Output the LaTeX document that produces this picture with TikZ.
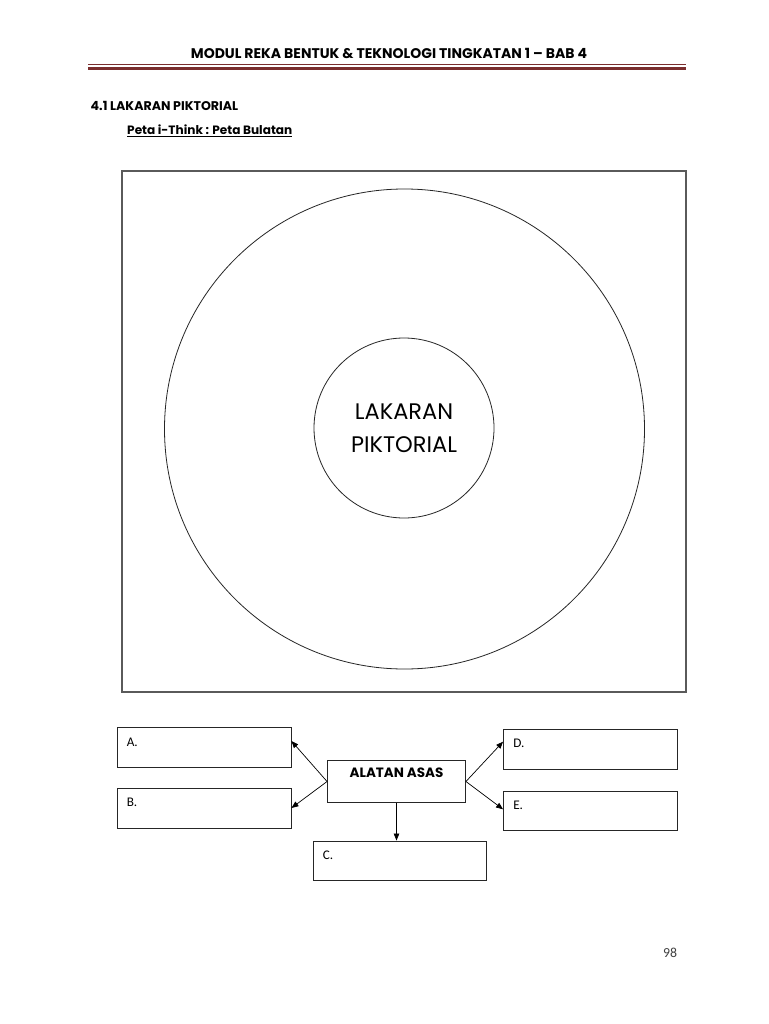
\documentclass[tikz,border=0pt]{standalone}
\usepackage{fontspec}
\setmainfont{Carlito}
\newfontfamily\gothic{Poppins}
\usetikzlibrary{arrows.meta}
\definecolor{rulered}{HTML}{7A2E2E}
\definecolor{framegray}{HTML}{5A5A5A}
\begin{document}
\begin{tikzpicture}[x=1pt,y=-1pt,
  labelbox/.style={draw=black!85, line width=0.9pt, minimum width=174pt, minimum height=40pt, inner sep=0pt},
  boxlbl/.style={anchor=north west, inner sep=0pt, xshift=10pt, yshift=-10.5pt, font=\fontsize{13.2}{15}\selectfont},
  conn/.style={-{Triangle[length=7pt,width=5.5pt]}, line width=0.7pt},
  ring/.style={draw=black!85, line width=0.8pt, circle, inner sep=0pt}]
\useasboundingbox (0,0) rectangle (768,1024);
\fill[white] (0,0) rectangle (768,1024);
% header
\node[anchor=base, inner sep=0pt, font=\gothic\bfseries\fontsize{14.0}{16}\selectfont] (hdr) at (389,59) {MODUL REKA BENTUK \& TEKNOLOGI TINGKATAN 1 – BAB 4};
\fill[rulered] (88,64.3) rectangle (686,65.3);
\fill[rulered] (88,66.7) rectangle (686,70);
% section titles
\node[anchor=base west, inner sep=0pt, font=\gothic\bfseries\fontsize{12.6}{14}\selectfont] (sec) at (90.5,110.5) {4.1 LAKARAN PIKTORIAL};
\node[anchor=base west, inner sep=0pt, font=\gothic\bfseries\fontsize{12.1}{14}\selectfont] (sub) at (127,135) {\underline{Peta i-Think : Peta Bulatan}};
% frame and circles
\draw[framegray, line width=1.1pt] (122,171) rectangle (686,692);
\node[ring, minimum size=480pt] (outer) at (404.5,429) {};
\node[ring, minimum size=180pt, align=center, font=\gothic\fontsize{22.5}{32.6}\selectfont] (inner) at (404,428) {LAKARAN\\PIKTORIAL};
% bottom map
\node[labelbox] (A) at (204,747.5) {};
\node[boxlbl] at (A.north west) {A.};
\node[labelbox] (B) at (204,808) {};
\node[boxlbl] at (B.north west) {B.};
\node[labelbox, minimum width=173pt, minimum height=39pt] (C) at (399.5,860.5) {};
\node[boxlbl] at (C.north west) {C.};
\node[labelbox, minimum height=40.5pt] (D) at (590.5,749.5) {};
\node[boxlbl] at (D.north west) {D.};
\node[labelbox, minimum height=39pt] (E) at (590.5,810.5) {};
\node[boxlbl] at (E.north west) {E.};
\node[labelbox, minimum width=138pt, minimum height=42pt] (alat) at (396.5,781.5) {};
\node[anchor=north, inner sep=0pt, yshift=-8.3pt, font=\gothic\bfseries\fontsize{13.5}{15}\selectfont, text height=9.4pt] at (alat.north) {ALATAN ASAS};
\draw[conn] (alat.west) -- ([yshift=6.5pt]A.east);
\draw[conn] (alat.west) -- (B.east);
\draw[conn] (alat.east) -- ([yshift=7.8pt]D.west);
\draw[conn] (alat.east) -- ([yshift=1.2pt]E.west);
\draw[conn] (alat.south) -- (alat.south |- C.north);
% page number
\node[anchor=base, inner sep=0pt, text=black!75, font=\fontsize{13.8}{15}\selectfont] (pg) at (670,957) {98};
\end{tikzpicture}
\end{document}
